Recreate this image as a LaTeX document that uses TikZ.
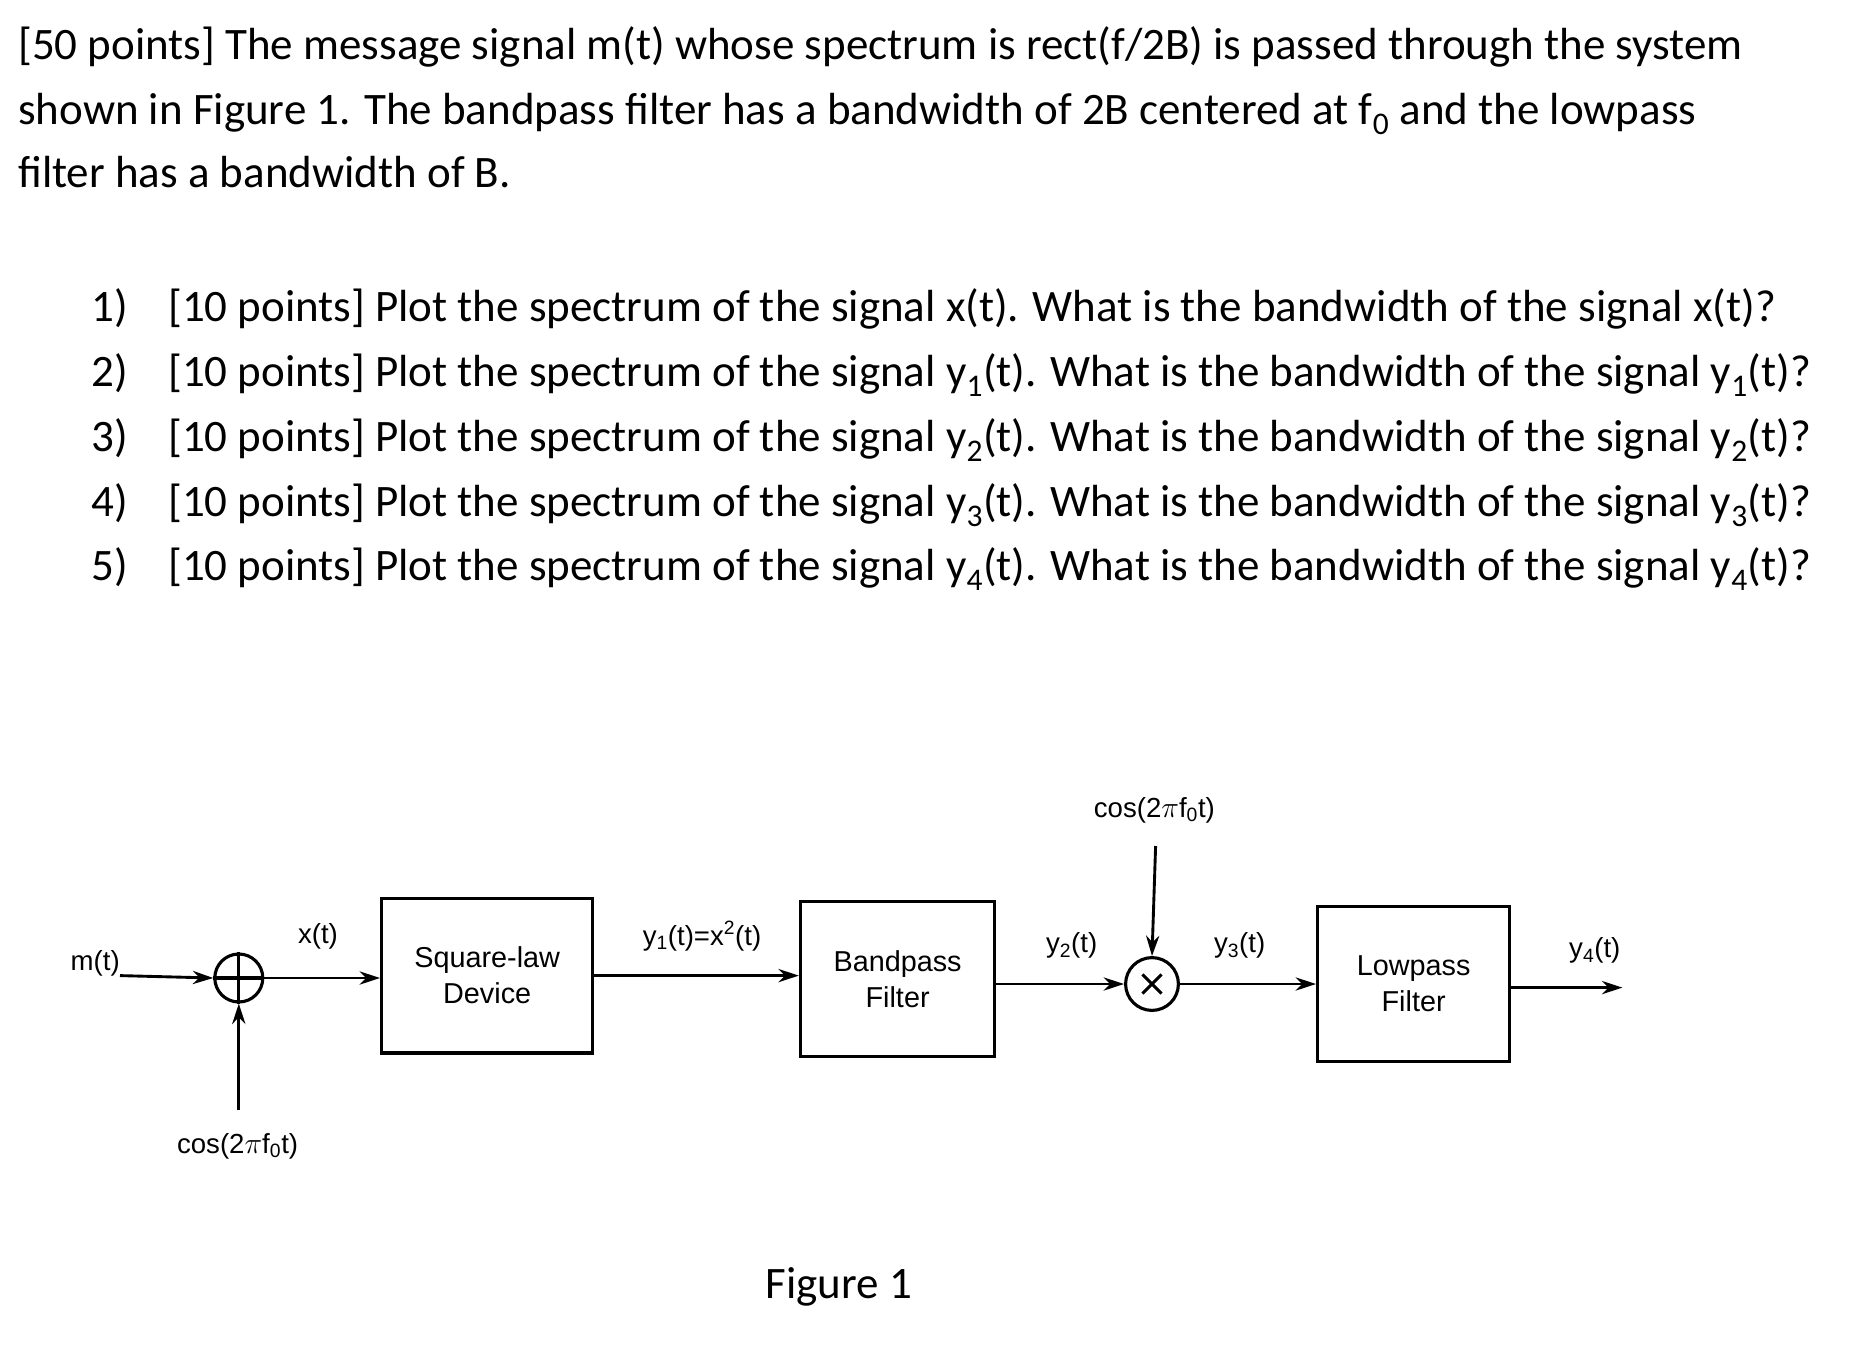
\documentclass[tikz,border=0pt]{standalone}
\usepackage{fontspec}
\setmainfont{Carlito}
\newfontfamily\arialf{Liberation Sans}
\usetikzlibrary{arrows.meta}
\begin{document}
\begin{tikzpicture}[x=1pt,y=-1pt,
  txt/.style={anchor=base west,inner sep=0pt,font=\fontsize{37.5}{40}\selectfont},
  lbl/.style={inner sep=0pt,font=\arialf\fontsize{23}{27}\selectfont},
  blk/.style={draw,line width=2.6pt,inner sep=0pt,align=center,font=\arialf\fontsize{24}{30}\selectfont},
  sum/.style={draw,circle,line width=2.6pt,minimum size=40pt,inner sep=0pt},
  conn/.style={line width=2.4pt,-{Stealth[length=17pt,width=11pt]}}]
\useasboundingbox (0,0) rectangle (1560,1121);
\node[txt] (t1) at (15,50) {[50 points] The message signal m(t) whose spectrum is rect(f/2B) is passed through the system};
\node[txt] (t2) at (15,104) {shown in Figure 1. The bandpass filter has a bandwidth of 2B centered at f\textsubscript{0} and the lowpass};
\node[txt] (t3) at (15,156) {filter has a bandwidth of B.};
\foreach \i/\s/\y in {1/x/268,2/y\textsubscript{1}/322,3/y\textsubscript{2}/376,4/y\textsubscript{3}/430,5/y\textsubscript{4}/484}{
  \node[txt] (n\i) at (76,\y) {\i)};
  \node[txt] (q\i) at (140,\y) {[10 points] Plot the spectrum of the signal \s(t). What is the bandwidth of the signal \s(t)?};
}
% diagram
\node[lbl,anchor=east] (m) at (100,803) {m(t)};
\coordinate (ms) at (100,813);
\node[sum] (add) at (199,815) {};
\draw[line width=2.6pt] (add.north) -- (add.south) (add.west) -- (add.east);
\coordinate (cb) at (199,925);
\node[lbl] (cl) at (198,955) {cos(2$\pi$f\textsubscript{0}t)};
\node[lbl] (xl) at (265,780) {x(t)};
\node[blk,minimum width=176pt,minimum height=129pt] (b1) at (406,813) {Square-law\\Device};
\node[lbl] (y1l) at (585,780) {y\textsubscript{1}(t)=x\textsuperscript{2}(t)};
\node[blk,minimum width=162pt,minimum height=129pt] (b2) at (748,816) {Bandpass\\Filter};
\node[lbl] (y2l) at (893,788) {y\textsubscript{2}(t)};
\node[sum,minimum size=44pt] (mul) at (960,820) {};
\draw[line width=2.6pt] (952,812) -- (968,828) (952,828) -- (968,812);
\coordinate (ct) at (963,705);
\node[lbl] (c2l) at (962,675) {cos(2$\pi$f\textsubscript{0}t)};
\node[lbl] (y3l) at (1033,788) {y\textsubscript{3}(t)};
\node[blk,minimum width=160pt,minimum height=129pt] (b3) at (1178,820) {Lowpass\\Filter};
\node[lbl] (y4l) at (1329,792) {y\textsubscript{4}(t)};
\coordinate (out) at (1352,823);
\node[txt,anchor=base] (fig) at (699,1082) {Figure 1};
\draw[conn] (ms) -- (add.west);
\draw[conn] (cb) -- (add.south);
\draw[conn] (add.east) -- (b1.west|-add.east);
\draw[conn] (b1.east) -- (b2.west|-b1.east);
\draw[conn] (b2.east|-mul.west) -- (mul.west);
\draw[conn] (ct) -- (mul.north);
\draw[conn] (mul.east) -- (b3.west|-mul.east);
\draw[conn] (b3.east|-out) -- (out);
\end{tikzpicture}
\end{document}
